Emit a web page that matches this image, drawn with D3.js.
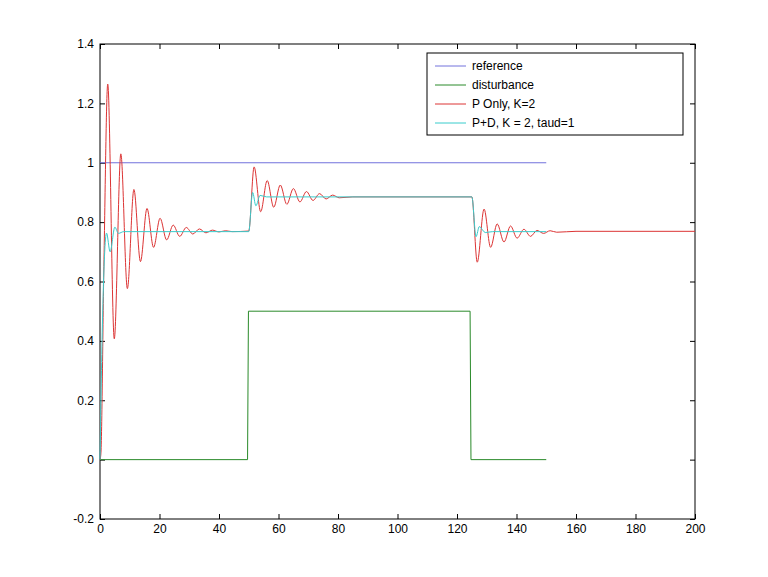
<!DOCTYPE html><html><head><meta charset="utf-8"><script src="https://cdn.jsdelivr.net/npm/d3@7"></script>
<style>body{margin:0;background:#fff}text{font-family:Arial,"Liberation Sans",sans-serif;font-size:12px}</style></head><body><svg id="c" width="768" height="577"></svg><script>
const xTicks=[0,20,40,60,80,100,120,140,160,180,200];
const yTicks=[-0.2,0,0.2,0.4,0.6,0.8,1,1.2,1.4];
const seriesNames=["reference","disturbance","P Only, K=2","P+D, K = 2, taud=1"];
const refT=[0,150], refV=[1,1];
const distT=[0,49.6,49.9,124.4,124.7,150], distV=[0,0,0.5,0.5,0,0];
const pT=[0,0.3,1.3,2.6,4.8,7.0,9.2,11.4,13.6,15.8,18.0,20.2,22.4,24.6,26.8,29,31.2,33.4,35.6,37.8,40,42.2,44.4,50,
 51.8,54.0,56.2,58.4,60.6,62.8,65,67.2,69.4,71.6,73.8,76,78.2,80.4,85,125,
 126.8,129.1,131.3,133.5,135.8,138,140.2,142.5,144.7,146.9,149.1,151.3,153.5,160,200];
const pV=[0,0.02,0.65,1.265,0.407,1.03,0.576,0.91,0.667,0.846,0.715,0.813,0.74,0.79,0.752,0.782,0.76,0.777,0.764,0.773,0.767,0.771,0.768,0.77,
 0.986,0.835,0.94,0.85,0.925,0.86,0.913,0.868,0.903,0.873,0.896,0.878,0.891,0.882,0.885,0.885,
 0.665,0.844,0.715,0.794,0.733,0.787,0.746,0.776,0.752,0.772,0.762,0.771,0.766,0.769,0.769];
const pdT=[0,0.8,2.2,3.4,5.0,6.2,8,50,51.3,52.4,53.8,56,125,126.4,127.5,129.5,132,150];
const pdV=[0,0.45,0.763,0.70,0.783,0.762,0.768,0.768,0.90,0.855,0.89,0.885,0.885,0.751,0.785,0.765,0.768,0.768];
const colors=["#7272dc","#2a8a2a","#dc3434","#38cccc"];

const svg=d3.select("#c");
const L=100,R=695,T=44,B=519;
const x=d3.scaleLinear().domain([0,200]).range([L,R]);
const y=d3.scaleLinear().domain([-0.2,1.4]).range([B,T]);
const g=svg.append("g");
g.append("g").attr("transform",`translate(0,${B})`).call(d3.axisBottom(x).tickValues(xTicks).tickSizeInner(-5).tickSizeOuter(0).tickPadding(5).tickFormat(d3.format("d")));
g.append("g").attr("transform",`translate(0,${T})`).call(d3.axisTop(x).tickValues(xTicks).tickSizeInner(-5).tickSizeOuter(0).tickFormat(""));
g.append("g").attr("transform",`translate(${L},0)`).call(d3.axisLeft(y).tickValues(yTicks).tickSizeInner(-5).tickSizeOuter(0).tickPadding(6).tickFormat(d=>String(+d.toFixed(1))));
g.append("g").attr("transform",`translate(${R},0)`).call(d3.axisRight(y).tickValues(yTicks).tickSizeInner(-5).tickSizeOuter(0).tickFormat(""));
g.selectAll(".domain").remove();
g.selectAll(".tick text").attr("font-size",12).attr("fill","#000");
g.append("rect").attr("x",L).attr("y",T).attr("width",R-L).attr("height",B-T).attr("fill","none").attr("stroke","#000");
function draw(ts,vs,c,curve){
 const d=ts.map((t,i)=>[t,vs[i]]);
 svg.append("path").datum(d).attr("fill","none").attr("stroke",c).attr("stroke-width",1)
 .attr("d",d3.line().x(p=>x(p[0])).y(p=>y(p[1])).curve(curve));
}
draw(refT,refV,colors[0],d3.curveLinear);
draw(distT,distV,colors[1],d3.curveLinear);
draw(pT,pV,colors[2],d3.curveMonotoneX);
draw(pdT,pdV,colors[3],d3.curveMonotoneX);
const lg=svg.append("g");
lg.append("rect").attr("x",427).attr("y",53).attr("width",256).attr("height",82).attr("fill","#fff").attr("stroke","#000");
seriesNames.forEach((n,i)=>{
 const yy=66+i*19;
 lg.append("line").attr("x1",435).attr("x2",466).attr("y1",yy).attr("y2",yy).attr("stroke",colors[i]);
 lg.append("text").attr("x",472).attr("y",yy+4).text(n);
});
</script></body></html>
